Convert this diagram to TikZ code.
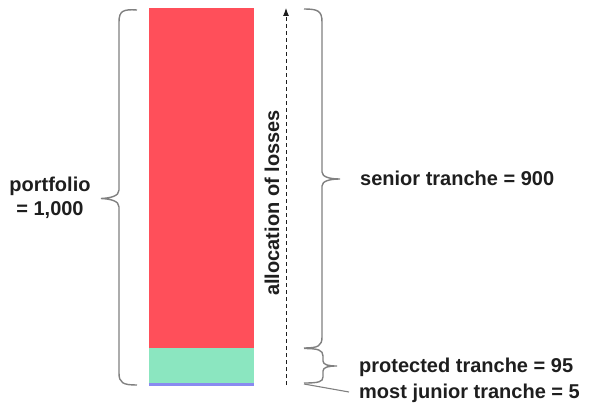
\documentclass[tikz,border=0pt]{standalone}
\usepackage{fontspec}
\setmainfont{Liberation Sans}
\usetikzlibrary{arrows.meta}
\definecolor{seniorred}{RGB}{255,79,90}
\definecolor{protgreen}{RGB}{139,230,192}
\definecolor{junblue}{RGB}{138,138,240}
\definecolor{bracegray}{RGB}{128,128,128}
\definecolor{txt}{RGB}{30,30,30}
\tikzset{
  bracepath/.style={draw=bracegray, line width=1.4pt},
  lbl/.style={text=txt, font=\fontsize{20}{23.5}\selectfont\bfseries, inner sep=0pt},
  lossarrow/.style={draw=txt, line width=0.9pt, dash pattern=on 4pt off 3pt, -{Latex[length=8pt,width=6pt]}}
}
\begin{document}
\begin{tikzpicture}[x=1pt,y=-1pt]
\useasboundingbox (0,0) rectangle (590,417);
% bar
\fill[seniorred] (149,8) rectangle (254,348);
\fill[protgreen] (149,348) rectangle (254,383);
\fill[junblue] (149,383) rectangle (254,385.5);
% left brace
\draw[bracepath] (137,10) .. controls (123,9) and (119,11) .. (119,22) -- (119,190) .. controls (119,196) and (111,198) .. (101,198.5) .. controls (111,199) and (119,201) .. (119,207) -- (119,373) .. controls (119,383) and (123,385) .. (137,385);
% right large brace
\draw[bracepath] (304,9) .. controls (318,9) and (322,11) .. (322,22) -- (322,172) .. controls (322,177) and (330,179) .. (340,179) .. controls (330,179) and (322,181) .. (322,186) -- (322,337) .. controls (322,346) and (318,348) .. (304,348);
% small brace
\draw[bracepath] (304,348.5) .. controls (318,348.5) and (323,350) .. (323,356) -- (323,361) .. controls (323,365) and (329,366) .. (337,366) .. controls (329,366) and (323,367) .. (323,371) -- (323,377) .. controls (323,382) and (318,383) .. (304,383);
% junior pointer
\coordinate (jstart) at (304,384);
\coordinate (jend) at (349,392);
\draw[bracepath, line width=1.1pt] (jstart) -- (jend);
% arrow
\coordinate (abot) at (286,385);
\coordinate (atop) at (286,8);
\draw[lossarrow] (abot) -- (atop);
% labels
\node[lbl, rotate=90, anchor=base] (alloc) at (279,203) {allocation of losses};
\node[lbl, align=center, anchor=center] (port) at (50,198) {portfolio\\= 1,000};
\node[lbl, anchor=base west] (senior) at (360,186) {senior tranche = 900};
\node[lbl, anchor=base west] (prot) at (359,372) {protected tranche = 95};
\node[lbl, anchor=base west] (jun) at (359,398) {most junior tranche = 5};
\end{tikzpicture}
\end{document}
